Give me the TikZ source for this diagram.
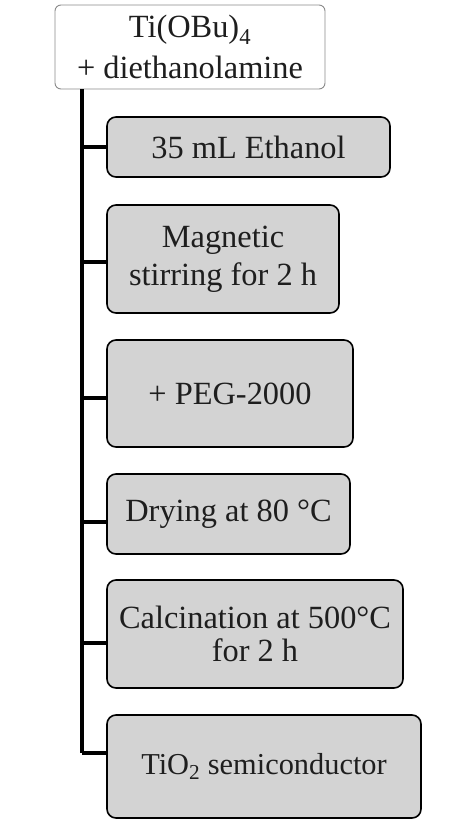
\documentclass[tikz,border=0pt]{standalone}
\usepackage{fontspec}
\setmainfont{Liberation Serif}
\definecolor{boxfill}{HTML}{D3D3D3}
\definecolor{txt}{HTML}{1E1E1E}
\definecolor{topborder}{HTML}{8A8A8A}
\begin{document}
\begin{tikzpicture}[x=1bp,y=-1bp,
  every node/.style={font=\fontsize{32.5}{38}\selectfont, text=txt, align=center, inner sep=0pt},
  stepbox/.style={draw=black, line width=1.6bp, fill=boxfill, rounded corners=9bp},
  startbox/.style={draw=topborder, line width=0.9bp, fill=white, rounded corners=6bp},
  trunkline/.style={line width=3.6bp, black}]
\useasboundingbox (0,0) rectangle (474,821);
\node[startbox, minimum width=270bp, minimum height=84bp] (top) at (190,47)
  {Ti(OBu)\textsubscript{4}\\[3bp]+ diethanolamine};
\node[stepbox, minimum width=283bp, minimum height=60bp] (b1) at (248.5,147) {35 mL Ethanol};
\node[stepbox, minimum width=232bp, minimum height=108bp] (b2) at (223,259) {Magnetic\\stirring for 2 h};
\node[stepbox, minimum width=246bp, minimum height=107bp] (b3) at (230,393.5) {+ PEG-2000};
\node[stepbox, minimum width=243bp, minimum height=80bp] (b4) at (228.5,514) {Drying at 80 °C};
\node[stepbox, minimum width=296bp, minimum height=108bp] (b5) at (255,634)
  {Calcination at 500°C\\[-5bp]for 2 h};
\node[stepbox, minimum width=314bp, minimum height=103bp, font=\fontsize{30.5}{36}\selectfont] (b6) at (264,766.5)
  {TiO\textsubscript{2} semiconductor};
\coordinate (j1) at (82,147);
\coordinate (j2) at (82,262);
\coordinate (j3) at (82,398);
\coordinate (j4) at (82,522);
\coordinate (j5) at (82,643);
\coordinate (j6) at (82,753);
\draw[trunkline] (top.south -| j1) -- (j6);
\foreach \i in {1,...,6}{
  \draw[trunkline] (j\i) -- (j\i -| b\i.west);
}
\end{tikzpicture}
\end{document}
